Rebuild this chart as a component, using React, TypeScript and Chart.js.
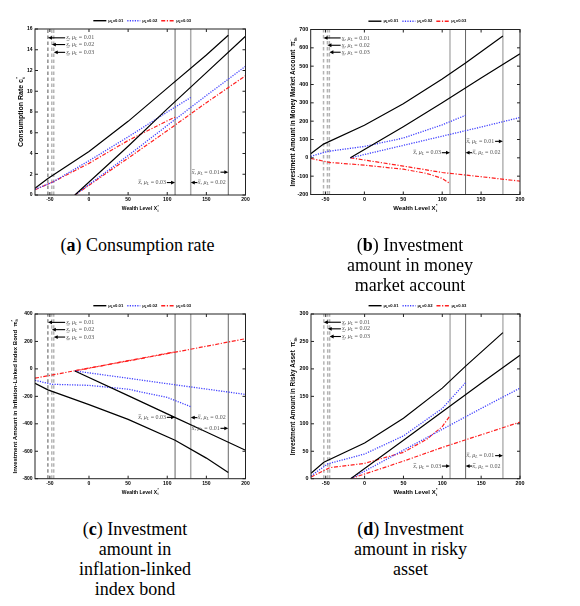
import React, { useEffect, useRef } from "react";
import { Chart, registerables } from "chart.js";
Chart.register(...registerables);

type Pt = [number, number];

// ---------- shared data ----------
const MU_VALUES = ["0.01", "0.02", "0.03"];
const X_MIN = -69;
const X_MAX = 200;
const X_TICKS = [-50, 0, 50, 100, 150, 200];
const LOWER_BOUNDS = [-52.5, -47.5, -45]; // x underline, mu_L = 0.01, 0.02, 0.03
const UPPER_BOUNDS = [178, 130, 110]; // x bar, mu_L = 0.01, 0.02, 0.03

// ---------- (a) consumption rate ----------
const consUp01: Pt[] = [[-69, 0.65], [-52.5, 1.6], [0, 4.2], [50, 7.1], [100, 10.3], [150, 13.5], [178, 15.4]];
const consLow01: Pt[] = [[-18, 0], [50, 4.7], [100, 8.3], [150, 11.8], [200, 15.3]];
const consUp02: Pt[] = [[-69, 0.55], [-47.5, 1.2], [0, 3.3], [50, 5.6], [100, 8.0], [130, 9.4]];
const consLow02: Pt[] = [[-18, 0], [50, 3.8], [100, 6.7], [150, 9.6], [200, 12.4]];
const consUp03: Pt[] = [[-69, 0.5], [-45, 1.3], [0, 3.05], [50, 5.25], [100, 7.15], [110, 7.5]];
const consLow03: Pt[] = [[-18, 0], [50, 3.55], [100, 6.2], [150, 8.9], [200, 11.5]];
const consY = [0, 16, 2];
const consTopLabelY = [15.15, 14.5, 13.75];
const consBottomLabelY = [2.2, 1.2, 1.2];

// ---------- (b) money market account ----------
const mmUp01: Pt[] = [[-69, 22], [-52.5, 75], [0, 178], [50, 295], [100, 430], [130, 517], [178, 665]];
const mmLow01: Pt[] = [[-18, 0], [50, 170], [100, 300], [150, 435], [200, 567]];
const mmUp02: Pt[] = [[-69, 8], [-47.5, 35], [0, 62], [50, 108], [100, 180], [130, 232]];
const mmLow02: Pt[] = [[-18, 0], [50, 68], [100, 118], [150, 168], [200, 220]];
const mmUp03: Pt[] = [[-69, -3], [-45, -25], [0, -40], [50, -62], [80, -85], [100, -112], [110, -140]];
const mmLow03: Pt[] = [[-18, 0], [50, -45], [100, -80], [150, -103], [200, -127]];
const mmY = [-200, 700, 100];
const mmTopLabelY = [654, 614, 576];
const mmBottomLabelY = [90, 28, 28];

// ---------- (c) inflation-linked index bond ----------
const ibUp01: Pt[] = [[-69, -105], [-52.5, -153], [0, -260], [50, -368], [110, -520], [150, -650], [178, -755]];
const ibLow01: Pt[] = [[-18, -15], [50, -195], [100, -328], [150, -460], [200, -593]];
const ibUp02: Pt[] = [[-69, -83], [-47.5, -112], [0, -120], [50, -148], [100, -208], [130, -275]];
const ibLow02: Pt[] = [[-18, -15], [50, -68], [100, -108], [150, -147], [200, -186]];
const ibUp03: Pt[] = [[-69, -68], [-45, -42], [0, 6], [50, 60], [110, 124]];
const ibLow03: Pt[] = [[-18, -14], [50, 58], [100, 111], [150, 165], [200, 220]];
const ibY = [-800, 400, 200];
const ibTopLabelY = [339, 286, 232];
const ibBottomLabelY = [-433, -355, -353];

// ---------- (d) risky asset ----------
const raUp01: Pt[] = [[-69, 10], [-52.5, 30], [0, 65], [50, 110], [100, 165], [130, 205], [178, 266]];
const raLow01: Pt[] = [[-18, 0], [50, 70], [100, 122], [150, 174], [200, 225]];
const raUp02: Pt[] = [[-69, 5], [-47.5, 27], [0, 45], [50, 78], [100, 128], [130, 175]];
const raLow02: Pt[] = [[-18, 0], [50, 52], [100, 90], [150, 128], [200, 165]];
const raUp03: Pt[] = [[-69, 3], [-45, 20], [0, 28], [50, 48], [80, 72], [100, 95], [110, 115]];
const raLow03: Pt[] = [[-18, 0], [50, 32], [100, 57], [150, 80], [200, 103]];
const raY = [0, 300, 50];
const raTopLabelY = [285, 273, 259];
const raBottomLabelY = [42, 23, 23];

// ---------- styles ----------
const SERIES_COLOR = ["#000000", "#4040ff", "#ff1f1f"];
const SERIES_WIDTH = [1.2, 1.3, 1.2];
const SERIES_DASH: number[][] = [[], [1.2, 1.3], [4, 1.6, 1.2, 1.6]];
const SANS = '"Liberation Sans", Arial, sans-serif';
const SERIF = '"Liberation Serif", "Times New Roman", serif';

type LineStyle = { color: string; width: number };
const STYLE_AC_LOWER: LineStyle[] = [
  { color: "#555", width: 1 },
  { color: "#aaa", width: 1.3 },
  { color: "#aaa", width: 1.3 },
];
const STYLE_AC_UPPER: LineStyle[] = [
  { color: "#666", width: 1 },
  { color: "#aaa", width: 1.5 },
  { color: "#666", width: 1 },
];
const STYLE_BD_LOWER: LineStyle[] = [
  { color: "#b3b3b3", width: 1.5 },
  { color: "#b3b3b3", width: 1.5 },
  { color: "#b3b3b3", width: 1.5 },
];
const STYLE_BD_UPPER: LineStyle[] = [
  { color: "#b3b3b3", width: 1.5 },
  { color: "#666", width: 1 },
  { color: "#b3b3b3", width: 1.5 },
];

interface PanelSpec {
  id: string;
  left: number;
  top: number;
  width: number;
  height: number;
  area: { l: number; t: number; r: number; b: number };
  yRange: number[];
  curves: Pt[][];
  topLabelY: number[];
  bottomLabelY: number[];
  yTitle: string;
  ySym: string;
  ySub: string;
  yTitleX: number;
  yTitleSize: number;
  xTitleSize: number;
  tickSize: number;
  lowerStyle: LineStyle[];
  upperStyle: LineStyle[];
}

const PANELS: PanelSpec[] = [
  {
    id: "a", left: 0, top: 0, width: 290, height: 220,
    area: { l: 35, t: 29, r: 245.5, b: 195 },
    yRange: consY,
    curves: [consUp01, consLow01, consUp02, consLow02, consUp03, consLow03],
    topLabelY: consTopLabelY, bottomLabelY: consBottomLabelY,
    yTitle: "Consumption Rate ", ySym: "c", ySub: "t", yTitleX: 21, yTitleSize: 7,
    xTitleSize: 5, tickSize: 5,
    lowerStyle: STYLE_AC_LOWER, upperStyle: STYLE_AC_UPPER,
  },
  {
    id: "b", left: 290, top: 0, width: 290, height: 220,
    area: { l: 20.7, t: 29.5, r: 230, b: 194.5 },
    yRange: mmY,
    curves: [mmUp01, mmLow01, mmUp02, mmLow02, mmUp03, mmLow03],
    topLabelY: mmTopLabelY, bottomLabelY: mmBottomLabelY,
    yTitle: "Investment Amount in Money Market Account  ", ySym: "π", ySub: "0t", yTitleX: 3.6, yTitleSize: 6.3,
    xTitleSize: 6, tickSize: 5.4,
    lowerStyle: STYLE_BD_LOWER, upperStyle: STYLE_BD_UPPER,
  },
  {
    id: "c", left: 0, top: 290, width: 290, height: 215,
    area: { l: 35, t: 24, r: 245.5, b: 188.7 },
    yRange: ibY,
    curves: [ibUp01, ibLow01, ibUp02, ibLow02, ibUp03, ibLow03],
    topLabelY: ibTopLabelY, bottomLabelY: ibBottomLabelY,
    yTitle: "Investment Amount in Inflation-Linked Index Bond  ", ySym: "π", ySub: "It", yTitleX: 15, yTitleSize: 6,
    xTitleSize: 5, tickSize: 5,
    lowerStyle: STYLE_AC_LOWER, upperStyle: STYLE_AC_UPPER,
  },
  {
    id: "d", left: 290, top: 290, width: 290, height: 215,
    area: { l: 21, t: 24, r: 230, b: 188.7 },
    yRange: raY,
    curves: [raUp01, raLow01, raUp02, raLow02, raUp03, raLow03],
    topLabelY: raTopLabelY, bottomLabelY: raBottomLabelY,
    yTitle: "Investment Amount in Risky Asset  ", ySym: "π", ySub: "St", yTitleX: 3.4, yTitleSize: 6.4,
    xTitleSize: 6, tickSize: 5.4,
    lowerStyle: STYLE_BD_LOWER, upperStyle: STYLE_BD_UPPER,
  },
];

// label anchor positions (data x)
const TOP_LABEL_TAIL_X = -30.5;
const TOP_LABEL_TEXT_X = -29;

// ---------- drawing helpers ----------
function arrow(ctx: CanvasRenderingContext2D, x1: number, y1: number, x2: number, y2: number) {
  const dir = Math.sign(x2 - x1) || 1;
  const hl = 4;
  const hw = 1.9;
  ctx.save();
  ctx.strokeStyle = "#000";
  ctx.fillStyle = "#000";
  ctx.lineWidth = 1.1;
  ctx.setLineDash([]);
  ctx.beginPath();
  ctx.moveTo(x1, y1);
  ctx.lineTo(x2 - dir * hl * 0.7, y2);
  ctx.stroke();
  ctx.beginPath();
  ctx.moveTo(x2, y2);
  ctx.lineTo(x2 - dir * hl, y2 - hw);
  ctx.lineTo(x2 - dir * hl, y2 + hw);
  ctx.closePath();
  ctx.fill();
  ctx.restore();
}

function boundLabel(
  ctx: CanvasRenderingContext2D,
  x: number,
  y: number,
  align: "left" | "right",
  mu: string,
  over: boolean
) {
  const fs = 6;
  const parts = [
    { t: "x", f: `italic ${fs}px ${SERIF}`, dy: 0 },
    { t: ", ", f: `${fs}px ${SERIF}`, dy: 0 },
    { t: "μ", f: `italic ${fs}px ${SERIF}`, dy: 0 },
    { t: "L", f: `italic ${fs * 0.7}px ${SERIF}`, dy: 1.5 },
    { t: " = " + mu, f: `${fs}px ${SERIF}`, dy: 0 },
  ];
  ctx.save();
  ctx.fillStyle = "#555";
  ctx.strokeStyle = "#555";
  ctx.textBaseline = "middle";
  ctx.textAlign = "left";
  let total = 0;
  const widths = parts.map((p) => {
    ctx.font = p.f;
    const w = ctx.measureText(p.t).width;
    total += w;
    return w;
  });
  let cx = align === "left" ? x : x - total;
  parts.forEach((p, i) => {
    ctx.font = p.f;
    ctx.fillText(p.t, cx, y + p.dy);
    if (i === 0) {
      ctx.lineWidth = 0.5;
      ctx.beginPath();
      const by = over ? y - 2.6 : y + 2.6;
      ctx.moveTo(cx + 0.3, by);
      ctx.lineTo(cx + widths[0] + 0.3, by);
      ctx.stroke();
    }
    cx += widths[i];
  });
  ctx.restore();
}

function richTitle(
  ctx: CanvasRenderingContext2D,
  main: string,
  sym: string,
  sub: string,
  size: number,
  x: number,
  y: number,
  rotate: boolean
) {
  ctx.save();
  ctx.translate(x, y);
  if (rotate) ctx.rotate(-Math.PI / 2);
  ctx.fillStyle = "#000";
  ctx.textBaseline = "middle";
  ctx.textAlign = "left";
  const fMain = `bold ${size}px ${SANS}`;
  const fSmall = `bold ${size * 0.62}px ${SANS}`;
  ctx.font = fMain;
  const wMain = ctx.measureText(main).width;
  const wSym = ctx.measureText(sym).width;
  ctx.font = fSmall;
  const wSmall = Math.max(ctx.measureText(sub).width, ctx.measureText("*").width);
  const total = wMain + wSym + wSmall + 0.5;
  let cx = -total / 2;
  ctx.font = fMain;
  ctx.fillText(main, cx, 0);
  cx += wMain;
  ctx.fillText(sym, cx, 0);
  cx += wSym + 0.4;
  ctx.font = fSmall;
  ctx.fillText("*", cx, -size * 0.42);
  ctx.fillText(sub, cx, size * 0.38);
  ctx.restore();
}

function legend(ctx: CanvasRenderingContext2D, cx: number, cy: number) {
  const fs = 4.2;
  const sample = 13;
  const gap = 2;
  const itemGap = 4;
  const fMain = `bold ${fs}px ${SANS}`;
  const fSub = `bold ${fs * 0.7}px ${SANS}`;
  ctx.save();
  ctx.textBaseline = "middle";
  ctx.textAlign = "left";
  const items = MU_VALUES.map((mu) => {
    ctx.font = fMain;
    const w1 = ctx.measureText("μ").width;
    const w3 = ctx.measureText("=" + mu).width;
    ctx.font = fSub;
    const w2 = ctx.measureText("L").width;
    return { mu, w1, w2, w3, w: w1 + w2 + w3 };
  });
  const total = items.reduce((s, it) => s + sample + gap + it.w, 0) + itemGap * (items.length - 1);
  let x = cx - total / 2;
  items.forEach((it, i) => {
    ctx.strokeStyle = SERIES_COLOR[i];
    ctx.lineWidth = 1.4;
    ctx.setLineDash(SERIES_DASH[i]);
    ctx.beginPath();
    ctx.moveTo(x, cy);
    ctx.lineTo(x + sample, cy);
    ctx.stroke();
    ctx.setLineDash([]);
    x += sample + gap;
    ctx.fillStyle = "#000";
    ctx.font = fMain;
    ctx.fillText("μ", x, cy);
    ctx.font = fSub;
    ctx.fillText("L", x + it.w1, cy + 1.2);
    ctx.font = fMain;
    ctx.fillText("=" + it.mu, x + it.w1 + it.w2, cy);
    x += it.w + itemGap;
  });
  ctx.restore();
}

function makePlugin(spec: PanelSpec) {
  return {
    id: "deco-" + spec.id,
    afterDatasetsDraw(chart: any) {
      const ctx: CanvasRenderingContext2D = chart.ctx;
      const { left, top, right, bottom } = chart.chartArea;
      const xs = chart.scales.x;
      const ys = chart.scales.y;
      ctx.save();
      ctx.setLineDash([]);
      ctx.strokeStyle = "#222";
      ctx.lineWidth = 1;
      ctx.strokeRect(left, top, right - left, bottom - top);
      ctx.beginPath();
      for (const v of X_TICKS) {
        const p = xs.getPixelForValue(v);
        ctx.moveTo(p, bottom);
        ctx.lineTo(p, bottom - 3);
        ctx.moveTo(p, top);
        ctx.lineTo(p, top + 3);
      }
      for (const t of ys.ticks) {
        const p = ys.getPixelForValue(t.value);
        ctx.moveTo(left, p);
        ctx.lineTo(left + 3, p);
        ctx.moveTo(right, p);
        ctx.lineTo(right - 3, p);
      }
      ctx.stroke();
      ctx.restore();

      // lower-bound annotations (top left)
      MU_VALUES.forEach((mu, i) => {
        const y = ys.getPixelForValue(spec.topLabelY[i]);
        arrow(ctx, xs.getPixelForValue(TOP_LABEL_TAIL_X), y, xs.getPixelForValue(LOWER_BOUNDS[i]), y);
        boundLabel(ctx, xs.getPixelForValue(TOP_LABEL_TEXT_X), y, "left", mu, false);
      });
      // upper-bound annotations (bottom right)
      const y1 = ys.getPixelForValue(spec.bottomLabelY[0]);
      arrow(ctx, xs.getPixelForValue(168), y1, xs.getPixelForValue(UPPER_BOUNDS[0]), y1);
      boundLabel(ctx, xs.getPixelForValue(167), y1, "right", MU_VALUES[0], true);
      const y2 = ys.getPixelForValue(spec.bottomLabelY[1]);
      arrow(ctx, xs.getPixelForValue(138.5), y2, xs.getPixelForValue(UPPER_BOUNDS[1]), y2);
      boundLabel(ctx, xs.getPixelForValue(139), y2, "left", MU_VALUES[1], true);
      const y3 = ys.getPixelForValue(spec.bottomLabelY[2]);
      arrow(ctx, xs.getPixelForValue(99.5), y3, xs.getPixelForValue(UPPER_BOUNDS[2]), y3);
      boundLabel(ctx, xs.getPixelForValue(98.5), y3, "right", MU_VALUES[2], true);
    },
    afterDraw(chart: any) {
      const ctx: CanvasRenderingContext2D = chart.ctx;
      const { left, top, right, bottom } = chart.chartArea;
      legend(ctx, (left + right) / 2 + 2, top - 8.3);
      richTitle(ctx, "Wealth Level ", "X", "t", spec.xTitleSize, (left + right) / 2, bottom + 13.8, false);
      richTitle(ctx, spec.yTitle, spec.ySym, spec.ySub, spec.yTitleSize, spec.yTitleX, (top + bottom) / 2, true);
    },
  };
}

function buildConfig(spec: PanelSpec): any {
  const datasets: any[] = [];
  spec.curves.forEach((pts, k) => {
    const s = Math.floor(k / 2);
    datasets.push({
      data: pts.map(([x, y]) => ({ x, y })),
      borderColor: SERIES_COLOR[s],
      borderDash: SERIES_DASH[s],
      borderWidth: SERIES_WIDTH[s],
      pointRadius: 0,
      fill: false,
      tension: 0,
    });
  });
  const [yMin, yMax, yStep] = spec.yRange;
  LOWER_BOUNDS.forEach((bx, i) =>
    datasets.push({
      data: [{ x: bx, y: yMin }, { x: bx, y: yMax }],
      borderColor: spec.lowerStyle[i].color,
      borderWidth: spec.lowerStyle[i].width,
      borderDash: [3.5, 2.5],
      pointRadius: 0,
      fill: false,
    })
  );
  UPPER_BOUNDS.forEach((bx, i) =>
    datasets.push({
      data: [{ x: bx, y: yMin }, { x: bx, y: yMax }],
      borderColor: spec.upperStyle[i].color,
      borderWidth: spec.upperStyle[i].width,
      pointRadius: 0,
      fill: false,
    })
  );
  const tickFont = { family: SANS, size: spec.tickSize, weight: "bold" as const };
  const xAxisH = spec.height - spec.area.b;
  return {
    type: "line",
    data: { datasets },
    options: {
      animation: false,
      responsive: false,
      events: [],
      layout: {
        padding: {
          left: 0,
          top: spec.area.t,
          right: spec.width - spec.area.r,
          bottom: 0,
        },
      },
      plugins: { legend: { display: false }, tooltip: { enabled: false } },
      scales: {
        x: {
          type: "linear",
          min: X_MIN,
          max: X_MAX,
          grid: { display: false, drawTicks: false },
          border: { display: false },
          afterBuildTicks: (s: any) => {
            s.ticks = X_TICKS.map((v) => ({ value: v }));
          },
          afterFit: (s: any) => {
            s.height = xAxisH;
          },
          ticks: { font: tickFont, color: "#000", padding: 2, maxRotation: 0, minRotation: 0, autoSkip: false },
        },
        y: {
          type: "linear",
          min: yMin,
          max: yMax,
          grid: { display: false, drawTicks: false },
          border: { display: false },
          afterFit: (s: any) => {
            s.width = spec.area.l;
          },
          ticks: { stepSize: yStep, font: tickFont, color: "#000", padding: 2.5, autoSkip: false },
        },
      },
    },
    plugins: [makePlugin(spec)],
  };
}

function PanelChart({ spec }: { spec: PanelSpec }) {
  const ref = useRef<HTMLCanvasElement>(null);
  useEffect(() => {
    const chart = new Chart(ref.current as HTMLCanvasElement, buildConfig(spec));
    return () => chart.destroy();
  }, [spec]);
  return (
    <canvas
      ref={ref}
      width={spec.width}
      height={spec.height}
      style={{ position: "absolute", left: spec.left, top: spec.top, width: spec.width, height: spec.height }}
    />
  );
}

const captionStyle: React.CSSProperties = {
  position: "absolute",
  width: 260,
  textAlign: "center",
  fontFamily: SERIF,
  fontSize: 18,
  lineHeight: "20px",
  color: "#000",
};

export default function App() {
  return (
    <div style={{ position: "absolute", left: 0, top: 0, width: 580, height: 606, background: "#fff", overflow: "hidden" }}>
      {PANELS.map((p) => (
        <PanelChart key={p.id} spec={p} />
      ))}
      <div style={{ ...captionStyle, left: 7.5, top: 235 }}>
        (<b>a</b>) Consumption rate
      </div>
      <div style={{ ...captionStyle, left: 280, top: 235 }}>
        (<b>b</b>) Investment
        <br />
        amount in money
        <br />
        market account
      </div>
      <div style={{ ...captionStyle, left: 5, top: 519 }}>
        (<b>c</b>) Investment
        <br />
        amount in
        <br />
        inflation-linked
        <br />
        index bond
      </div>
      <div style={{ ...captionStyle, left: 280.5, top: 519 }}>
        (<b>d</b>) Investment
        <br />
        amount in risky
        <br />
        asset
      </div>
    </div>
  );
}
